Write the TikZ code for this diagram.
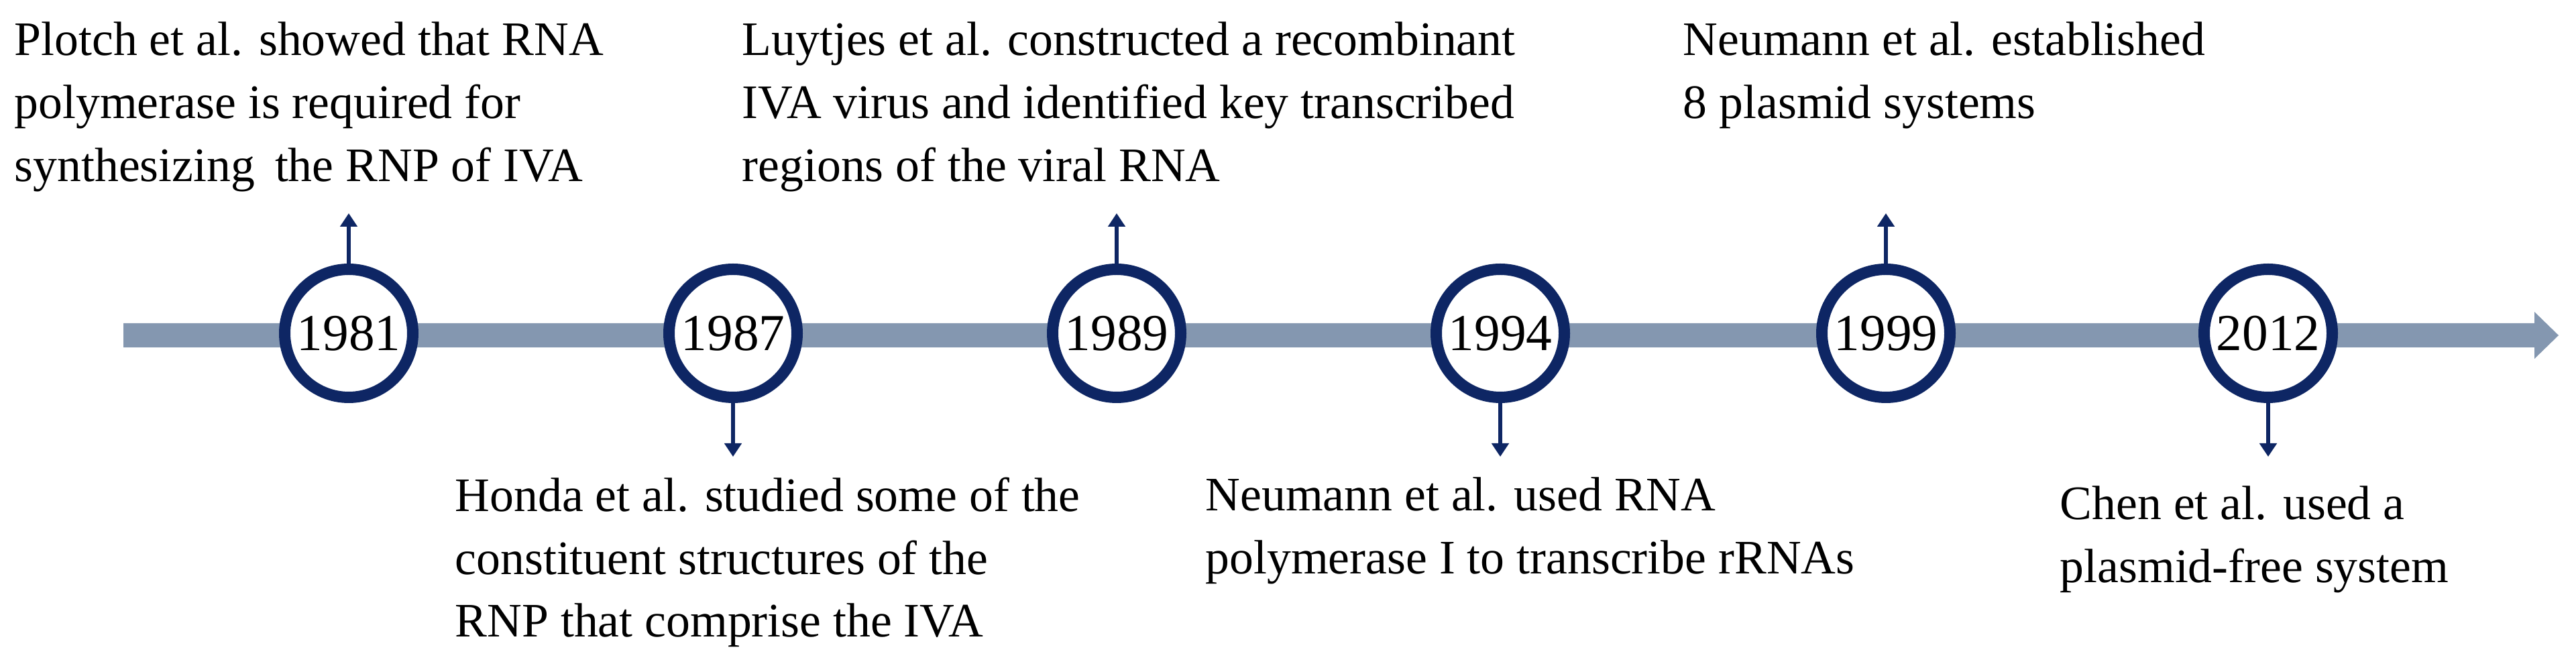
\documentclass[tikz,border=0pt]{standalone}
\usepackage{fontspec}
\setmainfont{Liberation Serif}
\usetikzlibrary{arrows.meta}
\definecolor{barc}{RGB}{132,151,176}
\definecolor{navy}{RGB}{14,38,100}
\tikzset{
  yearc/.style={circle,draw=navy,line width=0.17cm,fill=white,minimum size=1.91cm,inner sep=0pt,font=\fontsize{22pt}{24pt}\selectfont},
  evt/.style={anchor=north west,inner sep=0pt,align=left,font=\fontsize{20.4pt}{26.7pt}\selectfont},
  conn/.style={navy,line width=0.06cm,-{Triangle[length=0.2cm,width=0.25cm]}}
}
\begin{document}
\begin{tikzpicture}
\useasboundingbox (0,0) rectangle (38.41,9.99);
\fill[barc] (1.84,4.81) -- (37.79,4.81) -- (37.79,4.64) -- (38.15,4.99) -- (37.79,5.34) -- (37.79,5.17) -- (1.84,5.17) -- cycle;
\node[yearc] (y1) at (5.20,5.02) {1981};
\node[yearc] (y2) at (10.93,5.02) {1987};
\node[yearc] (y3) at (16.65,5.02) {1989};
\node[yearc] (y4) at (22.37,5.02) {1994};
\node[yearc] (y5) at (28.12,5.02) {1999};
\node[yearc] (y6) at (33.82,5.02) {2012};
\coordinate (t1) at (5.20,6.81);
\coordinate (t3) at (16.65,6.81);
\coordinate (t5) at (28.12,6.81);
\coordinate (d2) at (10.93,3.18);
\coordinate (d4) at (22.37,3.18);
\coordinate (d6) at (33.82,3.18);
\draw[conn] (y1.north) -- (t1);
\draw[conn] (y3.north) -- (t3);
\draw[conn] (y5.north) -- (t5);
\draw[conn] (y2.south) -- (d2);
\draw[conn] (y4.south) -- (d4);
\draw[conn] (y6.south) -- (d6);
\node[evt] (e1) at (0.21,9.67) {Plotch et al. showed that RNA\\polymerase is required for\\synthesizing\, the RNP of IVA};
\node[evt] (e3) at (11.06,9.67) {Luytjes et al. constructed a recombinant\\IVA virus and identified key transcribed\\regions of the viral RNA};
\node[evt] (e5) at (25.09,9.67) {Neumann et al. established\\8 plasmid systems};
\node[evt] (e2) at (6.78,2.88) {Honda et al. studied some of the\\constituent structures of the\\RNP that comprise the IVA};
\node[evt] (e4) at (17.97,2.88) {Neumann et al. used RNA\\polymerase I to transcribe rRNAs};
\node[evt] (e6) at (30.71,2.75) {Chen et al. used a\\plasmid-free system};
\end{tikzpicture}
\end{document}
